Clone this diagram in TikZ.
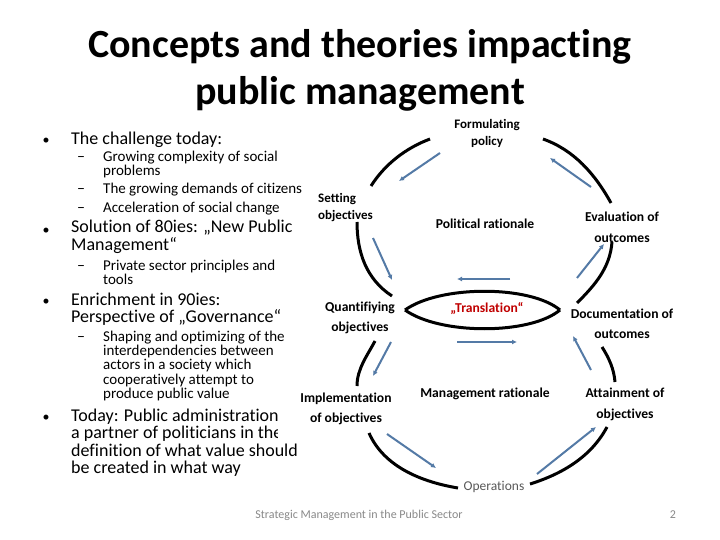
\documentclass[tikz,border=0pt]{standalone}
\usepackage{fontspec}
\setmainfont[Ligatures={NoCommon}]{Carlito}
\usetikzlibrary{arrows.meta}
\definecolor{arrowblue}{RGB}{84,122,166}
\definecolor{transred}{RGB}{192,0,0}
\definecolor{footgray}{RGB}{137,137,137}
\definecolor{opgray}{RGB}{89,89,89}
\begin{document}
\begin{tikzpicture}[x=1pt,y=-1pt,
  cyc/.style={line width=3pt},
  flow/.style={draw=arrowblue,line width=2pt,-{Latex[length=5pt,width=5pt]}},
  lbl/.style={font=\bfseries\fontsize{13.6}{20}\selectfont,align=center,inner sep=0pt},
  mainline/.style={anchor=base west,inner sep=0pt,font=\fontsize{18}{20}\selectfont},
  subline/.style={anchor=base west,inner sep=0pt,font=\fontsize{15}{16}\selectfont},
  bul/.style={anchor=base,inner sep=0pt,font=\fontsize{14}{16}\selectfont},
  dsh/.style={anchor=base west,inner sep=0pt,font=\fontsize{16}{16}\selectfont},
]
\useasboundingbox[fill=white] (0,0) rectangle (720,540);

% title
\node[font=\bfseries\fontsize{40}{47}\selectfont,align=center,inner sep=0pt] (title) at (360,70) {Concepts and theories impacting\\public management};

% left text
\node[bul] (b1) at (46,145) {•};
\node[mainline] (l1) at (71,145) {The challenge today:};
\node[dsh] (d1) at (77,162) {–};
\node[subline] (l2) at (103,162) {Growing complexity of social};
\node[subline] (l3) at (103,176) {problems};
\node[dsh] (d2) at (77,194) {–};
\node[subline] (l4) at (103,194) {The growing demands of citizens};
\node[dsh] (d3) at (77,212) {–};
\node[subline] (l5) at (103,212) {Acceleration of social change};
\node[bul] (b2) at (46,234) {•};
\node[mainline] (l6) at (71,233) {Solution of 80ies: „New Public};
\node[mainline] (l7) at (71,251) {Management“};
\node[dsh] (d4) at (77,270) {–};
\node[subline] (l8) at (103,270) {Private sector principles and};
\node[subline] (l9) at (103,284) {tools};
\node[bul] (b3) at (46,305) {•};
\node[mainline] (l10) at (71,305) {Enrichment in 90ies:};
\node[mainline] (l11) at (71,322) {Perspective of „Governance“};
\node[dsh] (d5) at (77,341) {–};
\node[subline] (l12) at (103,341) {Shaping and optimizing of the};
\node[subline] (l13) at (103,355) {interdependencies between};
\node[subline] (l14) at (103,369) {actors in a society which};
\node[subline] (l15) at (103,384) {cooperatively attempt to};
\node[subline] (l16) at (103,398) {produce public value};
\node[bul] (b4) at (46,421) {•};
\node[mainline] (l17) at (71,421) {Today: Public administration as};
\node[mainline] (l18) at (71,438) {a partner of politicians in the};
\node[mainline] (l19) at (71,456) {definition of what value should};
\node[mainline] (l20) at (71,473) {be created in what way};

% white box behind the implementation label
\fill[white] (278,386) rectangle (398,441);

% cycle arcs
\draw[cyc] (430,139) .. controls (406,148) and (385,164) .. (371,186);
\draw[cyc] (543,139) .. controls (574,150) and (595,174) .. (611,203);
\draw[cyc] (357,222) .. controls (357,252) and (366,279) .. (392,296);
\draw[cyc] (612,242) .. controls (610,268) and (595,285) .. (577,303);
\draw[cyc] (375,341) .. controls (367,356) and (357,369) .. (357,386);
\draw[cyc] (602,347) .. controls (609,358) and (614,369) .. (615,382);
\draw[cyc] (369,433) .. controls (384,467) and (422,482) .. (458,488);
\draw[cyc] (530,484) .. controls (562,474) and (591,457) .. (607,427);
% translation lens
\draw[cyc] (405,310) .. controls (440,285) and (530,285) .. (560,310);
\draw[cyc] (405,310) .. controls (440,335) and (530,335) .. (560,310);

% arrow end points
\coordinate (a1s) at (440,153); \coordinate (a1e) at (399,181);
\coordinate (a2s) at (591,187); \coordinate (a2e) at (550,158);
\coordinate (a3s) at (373,238); \coordinate (a3e) at (392,280);
\coordinate (a4s) at (577,278); \coordinate (a4e) at (604,244);
\coordinate (a5s) at (510,279); \coordinate (a5e) at (457,279);
\coordinate (a6s) at (457,342); \coordinate (a6e) at (517,342);
\coordinate (a7s) at (391,342); \coordinate (a7e) at (373,376);
\coordinate (a8s) at (591,370); \coordinate (a8e) at (573,336);
\coordinate (a9s) at (387,434); \coordinate (a9e) at (436,468);
\coordinate (a10s) at (537,474); \coordinate (a10e) at (596,427);
\foreach \i in {1,...,10} \draw[flow] (a\i s) -- (a\i e);

% cycle labels
\node[lbl,font=\bfseries\fontsize{13}{17}\selectfont] (form) at (487,133) {Formulating\\policy};
\node[lbl,font=\bfseries\fontsize{13}{17}\selectfont,align=left,anchor=west] (set) at (318,208) {Setting\\objectives};
\node[lbl] (pol) at (485,224) {Political rationale};
\node[lbl,font=\bfseries\fontsize{13.6}{21}\selectfont] (eval) at (622,227) {Evaluation of\\outcomes};
\node[lbl] (quant) at (360,318) {Quantifiying\\objectives};
\node[lbl,text=transred] (trans) at (487,309) {„Translation“};
\node[lbl] (doc) at (622,324) {Documentation of\\outcomes};
\node[lbl] (impl) at (346,409) {Implementation\\of objectives};
\node[lbl] (mgmt) at (485,394) {Management rationale};
\node[lbl,font=\bfseries\fontsize{13.6}{21}\selectfont] (att) at (625,404) {Attainment of\\objectives};
\node[inner sep=0pt,font=\fontsize{13.5}{16}\selectfont,text=opgray] (oper) at (494,487) {Operations};

% footer
\node[inner sep=0pt,font=\fontsize{12}{14}\selectfont,text=footgray] (foot) at (359,515) {Strategic Management in the Public Sector};
\node[inner sep=0pt,font=\fontsize{12}{14}\selectfont,text=footgray] (page) at (673,515) {2};
\end{tikzpicture}
\end{document}
